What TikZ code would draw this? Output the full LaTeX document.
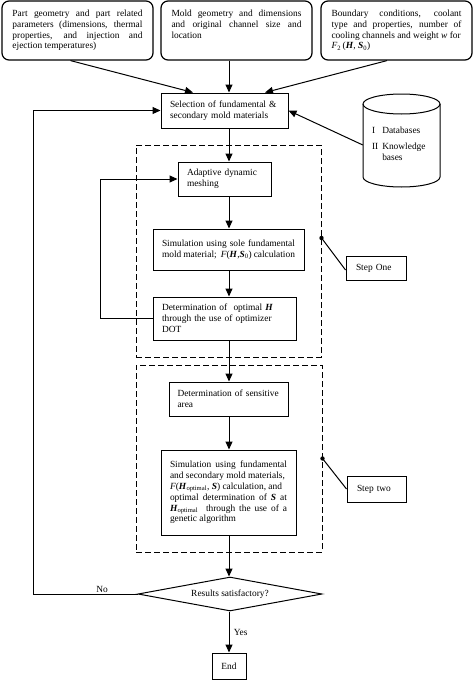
\documentclass[tikz,border=0pt]{standalone}
\usepackage{fontspec}
\setmainfont{Liberation Serif}
\usetikzlibrary{shapes.geometric,arrows.meta}

\newcommand{\bfit}[1]{\textbf{\textit{#1}}}
\hyphenpenalty=10000
\exhyphenpenalty=10000

\tikzset{
	every node/.style={font=\fontsize{9.4}{10.8}\selectfont},
	inbox/.style={draw, rounded corners=7pt, line width=1.2pt, inner xsep=10.5pt, inner ysep=9pt},
	procbox/.style={draw, line width=1pt, inner xsep=9pt, inner ysep=0pt, align=left},
	frame/.style={draw, dash pattern=on 6pt off 3pt, line width=1pt, inner sep=0pt},
	decision/.style={draw, diamond, aspect=5.4, line width=1pt, inner sep=0pt, minimum width=184pt, minimum height=34pt},
	arr/.style={line width=1pt, -{Triangle[length=8pt,width=7pt]}},
	link/.style={line width=1pt}
}

\begin{document}
\begin{tikzpicture}[x=1pt, y=-1pt]
	\useasboundingbox ( 0, 0 ) rectangle ( 474, 680 );
	\coordinate (axis) at ( 229, 0 );

	% исходные данные
	\node [inbox] (part) at ( 77.5, 30.5 ) {\parbox[c][41pt][t]{130pt}{Part geometry and part related\linebreak parameters (dimensions, thermal\linebreak properties, and injection and\linebreak ejection temperatures)}};
	\node [inbox] (mold) at ( 236.5, 30.5 ) {\parbox[c][41pt][t]{130pt}{Mold geometry and dimensions\linebreak and original channel size and\linebreak location}};
	\node [inbox] (bcond) at ( 396.5, 30.5 ) {\parbox[c][41pt][t]{130pt}{Boundary conditions, coolant\linebreak type and properties, number of\linebreak cooling channels and weight \textit{w} for\\\textit{F}\textsubscript{2}\,(\bfit{H}, \bfit{S}\textsubscript{0})}};

	% выбор материалов
	\node [procbox, text width=109pt, minimum height=35pt] (sel) at ( 224.5, 110.5 ) {Selection of fundamental \&\\secondary mold materials};

	% базы данных
	\node [inner xsep=9pt, inner ysep=0pt, text width=59pt, align=left] (db) at ( 401.5, 145 ) {\begin{tabular}{@{}l@{\hspace{4pt}}l@{}}I & Databases\\[5pt]II & Knowledge\\ & bases\end{tabular}};
	\draw [link] ( 401.5, 104 ) ellipse [x radius=38.5, y radius=10];
	\draw [link] ( 363, 104 ) -- ( 363, 177 ) arc [start angle=180, end angle=0, x radius=38.5, y radius=10] -- ( 440, 104 );

	% шаг 1
	\node [frame, minimum width=185pt, minimum height=212pt] (s1frame) at ( 228.5, 251 ) {};
	\node [procbox, text width=75pt, minimum height=34pt] (adapt) at ( 224.5, 179 ) {Adaptive dynamic\\meshing};
	\node [procbox, text width=133pt, minimum height=41pt, align=justify] (sim1) at ( 228.5, 249.5 ) {Simulation using sole fundamental\linebreak mold material;\ \ \textit{F}(\bfit{H},\bfit{S}\textsubscript{0}) calculation};
	\node [procbox, text width=125pt, minimum height=43pt] (deth) at ( 224.5, 318.5 ) {Determination of\ \ optimal \bfit{H}\\through the use of optimizer\\DOT};
	\node [procbox, inner xsep=10pt, text width=40pt, minimum height=24pt] (stepone) at ( 376, 268 ) {Step One};
	\coordinate (dot1) at ([yshift=13pt]s1frame.east);

	% шаг 2
	\node [frame, minimum width=186pt, minimum height=187pt] (s2frame) at ( 229, 458.5 ) {};
	\node [procbox, inner xsep=8.5pt, text width=102pt, minimum height=34pt] (sens) at ( 228.5, 399 ) {Determination of sensitive\\area};
	\node [procbox, text width=117pt, minimum height=85pt, align=justify] (sim2) at ( 228.5, 492.5 ) {Simulation using fundamental\linebreak and secondary mold materials,\\\textit{F}(\bfit{H}\textsubscript{optimal}, \bfit{S}) calculation, and\\optimal determination of \bfit{S} at\linebreak \bfit{H}\textsubscript{optimal}\ \ through the use of a\linebreak genetic algorithm};
	\node [procbox, inner xsep=10pt, text width=39pt, minimum height=26pt] (steptwo) at ( 376.5, 489 ) {Step two};
	\coordinate (dot2) at (s2frame.east);

	% проверка
	\node [decision] (dia) at ( 230, 594 ) {Results satisfactory?};
	\node [procbox, inner xsep=0pt, minimum width=34pt, minimum height=26pt, align=center] (fin) at ( 229, 666 ) {End};

	% связи
	\draw [arr] ([xshift=-7pt]part.south) -- ([xshift=-31.5pt]sel.north);
	\draw [arr] (mold.south -| axis) -- (sel.north -| axis);
	\draw [arr] ([xshift=-9.5pt]bcond.south) -- ([xshift=40.5pt]sel.north);
	\draw [arr] (db.west) -- (sel.east);
	\draw [arr] (sel.south -| axis) -- (adapt.north -| axis);
	\draw [arr] (adapt.south -| axis) -- (sim1.north -| axis);
	\draw [arr] (sim1.south -| axis) -- (deth.north -| axis);
	\draw [arr] (deth.south -| axis) -- (sens.north -| axis);
	\draw [arr] (sens.south -| axis) -- (sim2.north -| axis);
	\draw [arr] (sim2.south -| axis) -- (dia.north -| axis);
	\draw [arr] (dia.south -| axis) -- node [right, xshift=1pt] (yes) {Yes} (fin.north -| axis);
	\draw [arr] (deth.west) -- ++( -52, 0 ) |- (adapt.west);
	\draw [arr] (dia.west) -- node [above, pos=0.34, inner sep=1pt] (no) {No} ++( -104, 0 ) |- (sel.west);

	% пометки шагов
	\fill (dot1) circle [radius=2.2pt];
	\draw [link] (dot1) -- ([yshift=-2pt]stepone.west);
	\fill (dot2) circle [radius=2.2pt];
	\draw [link] (dot2) -- (steptwo.west);
\end{tikzpicture}
\end{document}
